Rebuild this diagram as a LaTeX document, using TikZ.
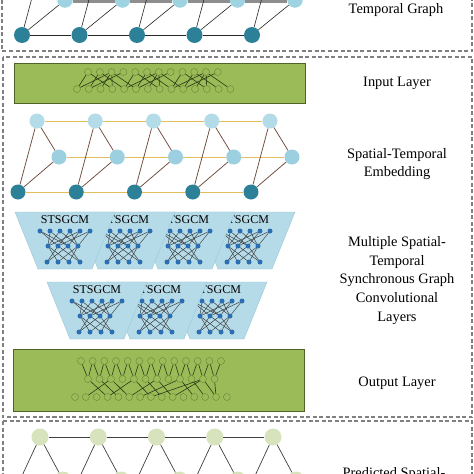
\documentclass[tikz,border=0pt]{standalone}
\usepackage{fontspec}
\setmainfont{Liberation Serif}
\definecolor{dashgray}{HTML}{808080}
\definecolor{tglightc}{HTML}{9ED3E2}
\definecolor{tealc}{HTML}{2C8097}
\definecolor{bargray}{HTML}{8E8E8E}
\definecolor{embtop}{HTML}{B4DCE8}
\definecolor{embmid}{HTML}{9CCFDF}
\definecolor{goldc}{HTML}{E2BE5A}
\definecolor{brownc}{HTML}{6E4A3E}
\definecolor{greenc}{HTML}{9BBB59}
\definecolor{greenedge}{HTML}{4F6228}
\definecolor{gcircc}{HTML}{6F8C3A}
\definecolor{glinec}{HTML}{2A3912}
\definecolor{trapc}{HTML}{B6DBE8}
\definecolor{trapedge}{HTML}{9CC6D6}
\definecolor{dotc}{HTML}{2B6FB2}
\definecolor{predc}{HTML}{D6E3BC}
\newcommand\stsgblock[3]{%
  \fill[trap] ({#1-50},{#2}) -- ({#1+50},{#2}) -- ({#1+27},{#2+57}) -- ({#1-27},{#2+57}) -- cycle;
  \coordinate (#3) at ({#1},{#2+28});
  \foreach \k in {0,...,5} \node[bdot] (#3t\k) at ({#1-25+10*\k},{#2+19}) {};
  \foreach \k in {0,...,3} \node[bdot] (#3m\k) at ({#1-17+10*\k},{#2+34}) {};
  \foreach \k in {0,...,3} \node[bdot] (#3b\k) at ({#1-18+11*\k},{#2+50}) {};
  \foreach \a/\b in {0/1,1/0,1/2,2/0,2/3,3/1,3/3,4/2,4/0,5/3,5/1,0/2}
    \draw[bline] (#3t\a) -- (#3m\b);
  \foreach \a/\b in {0/1,1/0,0/2,1/3,2/0,2/3,3/2,3/1}
    \draw[bline] (#3m\a) -- (#3b\b);
  \node[stlabel] (#3l) at ({#1},{#2+8}) {STSGCM};
}
\begin{document}
\begin{tikzpicture}[x=1pt,y=-1pt,
  dashbox/.style={draw=dashgray, line width=1.3pt, dash pattern=on 4pt off 2.5pt},
  lbl/.style={font=\fontsize{14.4}{18.7}\selectfont, align=center, inner sep=0},
  tglight/.style={circle, fill=tglightc, minimum size=15.5pt, inner sep=0},
  tgdark/.style={circle, fill=tealc, minimum size=16pt, inner sep=0},
  blk/.style={draw=black!85, line width=0.6pt},
  graybar/.style={draw=bargray, line width=5pt},
  etop/.style={circle, fill=embtop, minimum size=15pt, inner sep=0},
  emid/.style={circle, fill=embmid, minimum size=15pt, inner sep=0},
  ebot/.style={circle, fill=tealc, minimum size=15pt, inner sep=0},
  goldline/.style={draw=goldc, line width=1pt},
  brownline/.style={draw=brownc, line width=0.75pt},
  greenrect/.style={rectangle, fill=greenc, draw=greenedge, line width=1pt, inner sep=0},
  gcirc/.style={circle, draw=gcircc, line width=0.5pt, minimum size=7pt, inner sep=0},
  gline/.style={draw=glinec, line width=0.6pt},
  trap/.style={fill=trapc, draw=trapedge, line width=0.4pt},
  stlabel/.style={font=\fontsize{12}{12}\selectfont, inner sep=0},
  bdot/.style={circle, fill=dotc, minimum size=5pt, inner sep=0},
  bline/.style={draw=black!80, line width=0.45pt},
  pnode/.style={circle, fill=predc, minimum size=17pt, inner sep=0},
  pline/.style={draw=black!75, line width=0.7pt}]
\useasboundingbox (0,0) rectangle (474,474);
\clip (0,0) rectangle (474,474);
\fill[white] (0,0) rectangle (474,474);

% dashed boxes
\draw[dashbox] (2,-20) rectangle (472,51);
\draw[dashbox] (3,57) rectangle (472,417);
\draw[dashbox] (3,421) rectangle (472,500);

% ---- temporal graph (top)
\foreach \i in {0,...,4}{
  \coordinate (tt\i) at ({41+57.5*\i},-36);
  \node[tglight] (tl\i) at ({65+57.5*\i},0) {};
  \node[tgdark] (td\i) at ({22+57.5*\i},35) {};
}
\foreach \i [count=\j] in {0,...,3}{
  \draw[blk] (td\i) -- (td\j);
  \draw[graybar] (tl\i) -- (tl\j);
}
\foreach \i in {0,...,4}{
  \draw[blk] (td\i) -- (tl\i);
  \draw[blk] (td\i) -- (tt\i);
}
\node[lbl] (lt) at (396,10) {Temporal Graph};

% ---- input layer
\node[greenrect, minimum width=291pt, minimum height=40pt] (inrect) at (159.5,83) {};
\foreach \k in {0,...,11} \node[gcirc] (it\k) at ({88+11.8*\k},72) {};
\foreach \k in {0,...,13} \node[gcirc] (ib\k) at ({77+11.8*\k},89) {};
\foreach \a/\b in {0/0,1/1,2/2,4/4,5/5,6/6,8/8,9/9,10/10,
                   0/2,1/3,4/6,5/7,8/10,9/11,3/2,7/6,11/10}
  \draw[gline] (ib\a) -- (it\b);
\foreach \a/\b in {0/3,1/4,2/5,4/7,5/8,6/9,8/11,9/12,10/13}
  \draw[gline] (it\a) -- (ib\b);
\node[lbl] (lin) at (397,83) {Input Layer};

% ---- spatial-temporal embedding
\foreach \i in {0,...,4}{
  \node[etop] (et\i) at ({37+58.25*\i},121) {};
  \node[emid] (em\i) at ({59+58.25*\i},157) {};
  \node[ebot] (eb\i) at ({18+58.25*\i},192) {};
}
\foreach \i [count=\j] in {0,...,3}{
  \draw[goldline] (et\i) -- (et\j);
  \draw[goldline] (em\i) -- (em\j);
  \draw[goldline] (eb\i) -- (eb\j);
}
\foreach \i in {0,...,4}{
  \draw[brownline] (et\i) -- (em\i);
  \draw[brownline] (eb\i) -- (em\i);
  \draw[brownline] (eb\i) -- (et\i);
}
\node[lbl] (lemb) at (397,164) {Spatial-Temporal\\Embedding};

% ---- STSGCM blocks (drawn right to left so left ones overlap)
\stsgblock{245}{212}{sa4}
\stsgblock{185}{212}{sa3}
\stsgblock{125}{212}{sa2}
\stsgblock{65}{212}{sa1}
\stsgblock{217}{282}{sb3}
\stsgblock{157}{282}{sb2}
\stsgblock{97}{282}{sb1}
\node[lbl] (lmul) at (397,280.5) {Multiple Spatial-\\Temporal\\Synchronous Graph\\Convolutional\\Layers};

% ---- output layer
\node[greenrect, minimum width=291pt, minimum height=62pt] (outrect) at (158.5,380) {};
\foreach \k in {0,...,12} \node[gcirc] (ot\k) at ({81+11.67*\k},361) {};
\foreach \k in {0,...,11} \node[gcirc] (om\k) at ({88+11.5*\k},379) {};
\foreach \k in {0,...,14} \node[gcirc] (ob\k) at ({75+10.85*\k},397) {};
\foreach \k [count=\j] in {0,...,11}{
  \draw[gline] (om\k) -- (ot\k);
  \draw[gline] (om\k) -- (ot\j);
}
\foreach \a/\b in {0/3,1/4,2/5,4/7,5/8,6/9,8/11,9/12,10/13}
  \draw[gline] (om\a) -- (ob\b);
\foreach \a/\b in {1/2,3/4,5/6,6/8,7/10,9/10,13/11}
  \draw[gline] (ob\a) -- (om\b);
\node[lbl] (lout) at (397,383) {Output Layer};

% ---- predicted graph (bottom)
\foreach \i in {0,...,4}{
  \node[pnode] (pt\i) at ({40+58.25*\i},437) {};
  \node[pnode] (pm\i) at ({63+58.25*\i},480) {};
  \coordinate (pb\i) at ({7+58.25*\i},508);
}
\foreach \i [count=\j] in {0,...,3} \draw[pline] (pt\i) -- (pt\j);
\foreach \i in {0,...,4}{
  \draw[pline] (pt\i) -- (pm\i);
  \draw[pline] (pt\i) -- (pb\i);
}
\node[lbl, anchor=base] (lpred) at (394,477) {Predicted Spatial-};
\end{tikzpicture}
\end{document}
